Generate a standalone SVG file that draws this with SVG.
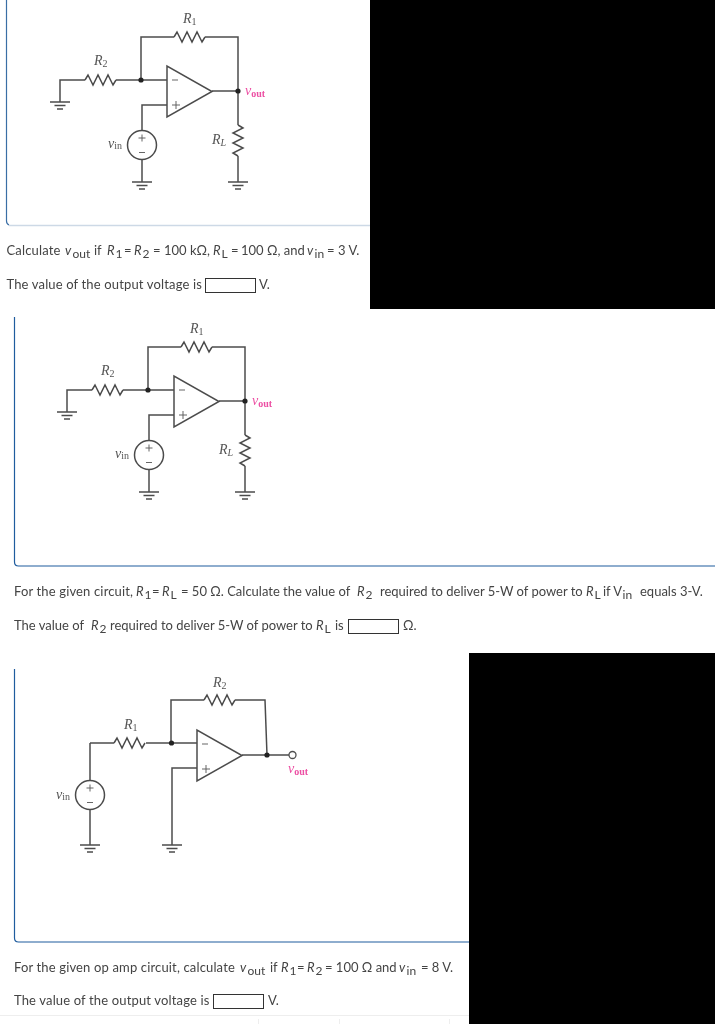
<svg xmlns="http://www.w3.org/2000/svg" width="715" height="1024" viewBox="0 0 715 1024">
<defs>
<style>
.w{fill:none;stroke:#4c4c4c;stroke-width:1.500}
.n{fill:#222}
.s{fill:none;stroke:#555;stroke-width:.9}
.q{font-family:"Lato","Liberation Sans",sans-serif;font-size:13px;fill:#444}
.w1{letter-spacing:.15px}
.i{font-style:italic}
.d{font-size:12px}
.b{fill:#fff;stroke:#333;stroke-width:1}
.l{font-family:"Liberation Serif",serif;font-size:14px;fill:#555;font-style:italic}
.u{font-family:"Liberation Serif",serif;font-size:10px;fill:#555}
.m{font-family:"Liberation Serif",serif;font-size:14px;fill:#ec4fa3;font-style:italic}
.mu{font-family:"Liberation Serif",serif;font-size:10px;fill:#ec4fa3;font-weight:bold}
</style>
<filter id="soft" x="-5%" y="-5%" width="110%" height="110%"><feGaussianBlur stdDeviation=".5"/></filter>
<g id="gnd"><path class="w" d="M-10 0H10M-5.500 3.500H5.500M-3 7H3"/></g>
<g id="rh"><path class="w" d="M0 0L3 -5L8 5L13 -5L18 5L23 -5L28 5L31 0"/></g>
<g id="rv"><path class="w" d="M0 0L5 3L-5 8L5 13L-5 18L5 23L-5 28L0 31"/></g>
<g id="amp"><path class="w" d="M0 0V51L45 25.500Z"/><path class="s" d="M5 14H11M5 39H13M9 35V43"/></g>
<g id="src"><circle class="w" cx="0" cy="0" r="14.500"/><path class="s" d="M-3.500 -7H3.500M0 -10.500V-3.500M-3 7.500H3"/></g>
</defs>
<rect width="715" height="1024" fill="#fff"/>
<g id="panels" fill="none">
<path d="M6.500 0V221Q6.500 224 9 225" stroke="#3a6ea5" stroke-width="1.200"/>
<path d="M9 225.500H370" stroke="#cdd9e6" stroke-width="1.600"/>
<path d="M14.500 317V562Q14.500 566 18.500 566H715" stroke="#1f5c9e" stroke-width="1.200"/>
<path d="M14.500 669V938Q14.500 942 18.500 942H469" stroke="#1f5c9e" stroke-width="1.200"/>
<path d="M0 1015.500H469M258.500 1019V1024M339.500 1019V1024M449.500 1019V1024" stroke="#eee"/>
</g>
<g id="connectors" filter="url(#soft)">
<path class="w" d="M174 37H141V80M205 37H238V125M238 156V182M141 80H167M85 80H60V102M116 80H141M167 105H142V130M142 160V182M212 91H238"/>
<path class="w" d="M181 347H148V390M212 347H245V435M245 466V492M148 390H174M92 390H67V412M123 390H148M174 415H149V440M149 470V492M219 401H245"/>
<path class="w" d="M204 700H171V743M235 700H265L267 755M90 743V781M90 810V845M90 743H114M146 743H197M197 768H172V845M242 755H289"/>
</g>
<g id="circuit1" filter="url(#soft)">
<use href="#rh" x="174" y="37"/><use href="#rh" x="85" y="80"/><use href="#rv" x="238" y="125"/>
<use href="#amp" x="167" y="66"/><use href="#src" x="142" y="145"/>
<use href="#gnd" x="60" y="102"/><use href="#gnd" x="142" y="182"/><use href="#gnd" x="238" y="182"/>
<circle class="n" cx="141" cy="80" r="2.600"/><circle class="n" cx="238" cy="91" r="2.600"/>
<text class="l" x="183" y="23">R<tspan class="u" dy="2" font-style="normal">1</tspan></text>
<text class="l" x="94" y="65">R<tspan class="u" dy="2" font-style="normal">2</tspan></text>
<text class="l" x="212" y="144">R<tspan class="u" dy="2">L</tspan></text>
<text class="l" x="108" y="148">v<tspan class="u" dy="1" font-style="normal">in</tspan></text>
<text class="m" x="245" y="95">v<tspan class="mu" dy="2" font-style="normal">out</tspan></text>
</g>
<g id="circuit2" filter="url(#soft)">
<use href="#rh" x="181" y="347"/><use href="#rh" x="92" y="390"/><use href="#rv" x="245" y="435"/>
<use href="#amp" x="174" y="376"/><use href="#src" x="149" y="455"/>
<use href="#gnd" x="67" y="412"/><use href="#gnd" x="149" y="492"/><use href="#gnd" x="245" y="492"/>
<circle class="n" cx="148" cy="390" r="2.600"/><circle class="n" cx="245" cy="401" r="2.600"/>
<text class="l" x="190" y="333">R<tspan class="u" dy="2" font-style="normal">1</tspan></text>
<text class="l" x="101" y="375">R<tspan class="u" dy="2" font-style="normal">2</tspan></text>
<text class="l" x="219" y="454">R<tspan class="u" dy="2">L</tspan></text>
<text class="l" x="115" y="458">v<tspan class="u" dy="1" font-style="normal">in</tspan></text>
<text class="m" x="252" y="405">v<tspan class="mu" dy="2" font-style="normal">out</tspan></text>
</g>
<g id="circuit3" filter="url(#soft)">
<use href="#rh" x="204" y="700"/><use href="#rh" x="114" y="743"/>
<use href="#amp" x="197" y="730"/><use href="#src" x="90" y="795"/>
<use href="#gnd" x="90" y="845"/><use href="#gnd" x="172" y="845"/>
<circle class="n" cx="171.500" cy="743" r="2.600"/><circle class="n" cx="267" cy="755" r="2.600"/>
<circle cx="292.500" cy="755" r="3.500" fill="#fff" stroke="#505050" stroke-width="1.300"/>
<text class="l" x="213" y="687">R<tspan class="u" dy="2" font-style="normal">2</tspan></text>
<text class="l" x="124" y="729">R<tspan class="u" dy="2" font-style="normal">1</tspan></text>
<text class="l" x="56" y="799">v<tspan class="u" dy="1" font-style="normal">in</tspan></text>
<text class="m" x="288" y="773">v<tspan class="mu" dy="2" font-style="normal">out</tspan></text>
</g>
<g id="question1">
<text class="q" y="255"><tspan x="6.500" class="w1">Calculate</tspan><tspan class="i" x="65">v</tspan><tspan class="d" x="72.500" dy="3">out</tspan><tspan x="94" dy="-3">if</tspan><tspan class="i" x="107">R</tspan><tspan class="d" x="115.500" dy="3">1</tspan><tspan x="124" dy="-3">=</tspan><tspan class="i" x="134">R</tspan><tspan class="d" x="142.500" dy="3">2</tspan><tspan x="153" dy="-3">=</tspan><tspan x="164">100 kΩ,</tspan><tspan class="i" x="213">R</tspan><tspan class="d" x="221.500" dy="3">L</tspan><tspan x="231" dy="-3">=</tspan><tspan x="241">100 Ω, and</tspan><tspan class="i" x="307">v</tspan><tspan class="d" x="314.500" dy="3">in</tspan><tspan x="327" dy="-3">=</tspan><tspan x="338">3 V.</tspan></text>
<text class="q w1" x="6.500" y="289">The value of the output voltage is</text>
<rect class="b" x="205.500" y="278.500" width="50" height="14"/>
<text class="q" x="259" y="289">V.</text>
</g>
<g id="question2">
<text class="q" y="596"><tspan x="14" class="w1">For the given circuit,</tspan><tspan class="i" x="136">R</tspan><tspan class="d" x="144.500" dy="3">1</tspan><tspan x="152" dy="-3">=</tspan><tspan class="i" x="162">R</tspan><tspan class="d" x="170.500" dy="3">L</tspan><tspan x="181" dy="-3">= 50 Ω. Calculate the value of</tspan><tspan class="i" x="357">R</tspan><tspan class="d" x="365.500" dy="3">2</tspan><tspan x="380" dy="-3">required to deliver 5-W of power to</tspan></text>
<text class="q" y="596"><tspan class="i" x="586">R</tspan><tspan class="d" x="594.500" dy="3">L</tspan><tspan x="603" dy="-3">if V</tspan><tspan class="d" x="622.500" dy="3">in</tspan><tspan x="640" dy="-3">equals 3-V.</tspan></text>
<text class="q" y="630"><tspan x="14">The value of</tspan><tspan class="i" x="91">R</tspan><tspan class="d" x="99.500" dy="3">2</tspan><tspan x="110" dy="-3">required to deliver 5-W of power to</tspan><tspan class="i" x="316">R</tspan><tspan class="d" x="324.500" dy="3">L</tspan><tspan x="335" dy="-3">is</tspan></text>
<rect class="b" x="348.500" y="619.500" width="50" height="14"/>
<text class="q" x="403" y="630">Ω.</text>
</g>
<g id="question3">
<text class="q" y="972"><tspan x="14" class="w1">For the given op amp circuit, calculate</tspan><tspan class="i" x="240">v</tspan><tspan class="d" x="247.500" dy="3">out</tspan><tspan x="270" dy="-3">if</tspan><tspan class="i" x="281">R</tspan><tspan class="d" x="289.500" dy="3">1</tspan><tspan x="297" dy="-3">=</tspan><tspan class="i" x="307">R</tspan><tspan class="d" x="315.500" dy="3">2</tspan><tspan x="325" dy="-3">= 100 Ω and</tspan><tspan class="i" x="399">v</tspan><tspan class="d" x="406.500" dy="3">in</tspan><tspan x="421" dy="-3">= 8 V.</tspan></text>
<text class="q w1" x="14" y="1005">The value of the output voltage is</text>
<rect class="b" x="213.500" y="994.500" width="50" height="14"/>
<text class="q" x="268" y="1005">V.</text>
</g>
<g id="redactions">
<rect x="370" y="0" width="345" height="309" fill="#000"/>
<rect x="469" y="653" width="246" height="371" fill="#000"/>
</g>
</svg>
